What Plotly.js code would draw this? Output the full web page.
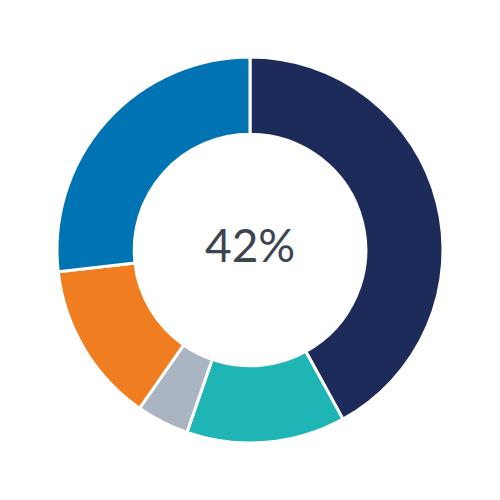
<!DOCTYPE html>
<html><head><meta charset="utf-8">
<script src="https://cdn.plot.ly/plotly-3.0.1.min.js"></script>
<style>html,body{margin:0;padding:0;background:#fff}</style>
</head><body>
<div id="chart" style="width:500px;height:500px"></div>
<script>
const labels = ["A", "B", "C", "D", "E"];
const values = [42, 13.3, 4.4, 13.5, 26.8];
const colors = ["#1c2b5a", "#1fb5b5", "#aab4c3", "#f17d21", "#0074b3"];
const centerLabel = "42%";

Plotly.newPlot("chart", [{
  type: "pie",
  labels: labels,
  values: values,
  hole: 0.6,
  sort: false,
  direction: "clockwise",
  rotation: 0,
  textinfo: "none",
  hoverinfo: "none",
  marker: {colors: colors, line: {color: "#ffffff", width: 3}}
}], {
  width: 500, height: 500,
  showlegend: false,
  margin: {l: 57, r: 57, t: 57, b: 57},
  paper_bgcolor: "#ffffff",
  annotations: [{
    text: centerLabel, x: 0.5, y: 0.5, xref: "paper", yref: "paper", yshift: 6,
    showarrow: false, font: {family: "Lato, sans-serif", size: 46, color: "#3d4550"}
  }]
}, {displayModeBar: false, staticPlot: true});
</script>
</body></html>
